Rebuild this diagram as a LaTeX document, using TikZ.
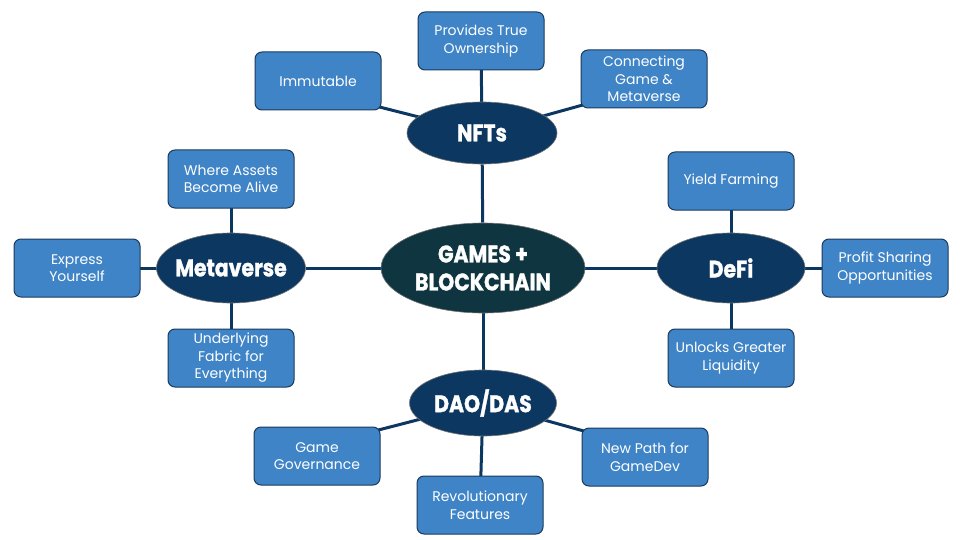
\documentclass[tikz,border=0pt]{standalone}
\usepackage{fontspec}
\setmainfont{Poppins}
\newfontfamily\headfont{Poppins}[FakeStretch=0.85, BoldFeatures={FakeBold=1.2}]
\usetikzlibrary{shapes.geometric,backgrounds}
\definecolor{boxblue}{HTML}{3E84C6}
\definecolor{boxedge}{HTML}{1B3A5C}
\definecolor{navyhub}{HTML}{0B3761}
\definecolor{tealhub}{HTML}{0E3540}
\begin{document}
\begin{tikzpicture}[x=1pt,y=-1pt,
 leaf/.style={draw=boxedge, line width=1pt, fill=boxblue, rounded corners=7pt,
   minimum width=126pt, minimum height=58pt, text=white, align=center,
   font=\fontsize{14}{17.5}\selectfont, inner sep=2pt},
 hub/.style={ellipse, draw=black!55, line width=0.6pt, fill=navyhub, inner sep=0pt},
 hubtext/.style={text=white, align=center, font=\headfont\bfseries\fontsize{24}{28}\selectfont},
 link/.style={draw=navyhub, line width=3pt}]
% hubs
\node[hub, fill=tealhub, minimum width=204pt, minimum height=90pt,
  label={[hubtext]center:GAMES +\\BLOCKCHAIN}] (core) at (483,268) {};
\node[hub, minimum width=150pt, minimum height=62pt,
  label={[hubtext]center:NFTs}] (nfts) at (482,133) {};
\node[hub, minimum width=149pt, minimum height=70pt,
  label={[hubtext]center:Metaverse}] (meta) at (231,268) {};
\node[hub, minimum width=148pt, minimum height=70pt,
  label={[hubtext]center:DeFi}] (defi) at (731,268) {};
\node[hub, minimum width=147pt, minimum height=66pt,
  label={[hubtext]center:DAO/DAS}] (dao) at (483,403) {};
% leaves
\node[leaf] (own) at (481,41) {Provides True\\Ownership};
\node[leaf] (imm) at (318,81) {Immutable};
\node[leaf] (conn) at (644,79) {Connecting\\Game \&\\Metaverse};
\node[leaf] (alive) at (231,179) {Where Assets\\Become Alive};
\node[leaf] (expr) at (77,268) {Express\\Yourself};
\node[leaf] (fabric) at (231,358) {Underlying\\Fabric for\\Everything};
\node[leaf] (yield) at (731,181) {Yield Farming};
\node[leaf] (profit) at (885,268) {Profit Sharing\\Opportunities};
\node[leaf] (liq) at (731,358) {Unlocks Greater\\Liquidity};
\node[leaf] (gov) at (317,456) {Game\\Governance};
\node[leaf] (rev) at (480,505) {Revolutionary\\Features};
\node[leaf] (path) at (645,457) {New Path for\\GameDev};
% links
\begin{scope}[on background layer]
\fill[white] (0,0) rectangle (960,540);
\draw[link] (core) -- (nfts);
\draw[link] (core) -- (meta);
\draw[link] (core) -- (defi);
\draw[link] (core) -- (dao);
\draw[link] (nfts.center) -- (own.center);
\draw[link] (nfts.center) -- ([shift={(-4,-4)}]imm.south east);
\draw[link] (nfts.center) -- ([shift={(4,-4)}]conn.south west);
\draw[link] (meta.center) -- (alive.center);
\draw[link] (meta.center) -- (expr.center);
\draw[link] (meta.center) -- (fabric.center);
\draw[link] (defi.center) -- (yield.center);
\draw[link] (defi.center) -- (profit.center);
\draw[link] (defi.center) -- (liq.center);
\draw[link] (dao.center) -- ([shift={(-4,4)}]gov.north east);
\draw[link] (dao.center) -- (rev.center);
\draw[link] (dao.center) -- ([shift={(4,4)}]path.north west);
\end{scope}
\end{tikzpicture}
\end{document}
